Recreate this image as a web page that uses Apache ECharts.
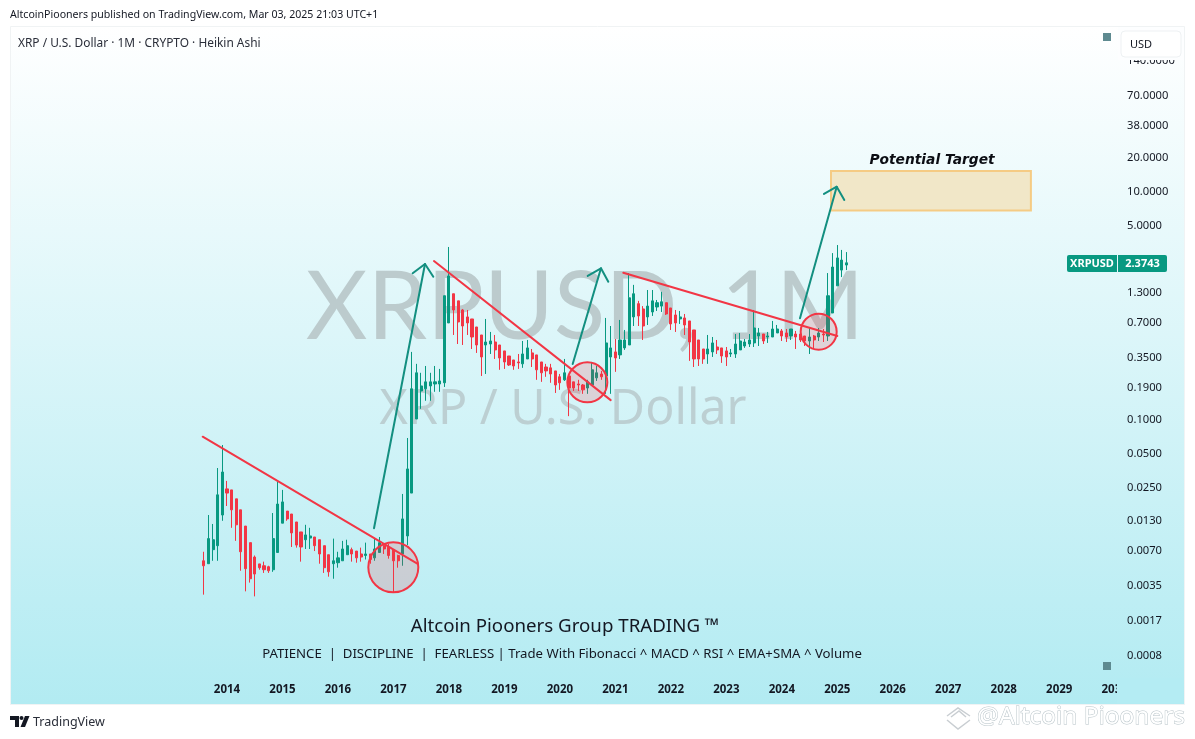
<!DOCTYPE html>
<html>
<head>
<meta charset="utf-8">
<style>html,body{margin:0;padding:0;background:#fff}#c{width:1195px;height:739px}</style>
<script src="https://cdn.jsdelivr.net/npm/echarts@6/dist/echarts.min.js"></script>
</head>
<body>
<div id="c"></div>
<script>
// ---- Monthly Heikin Ashi candles, XRP/USD, Aug 2013 .. Mar 2025 ----
const firstCandle = [2013, 8];
const opens = [
.00575,.00542,.0072,.0078,.0145,
.0246,.0241,.0201,.0161,.0116,.0083,.0062,.0054,.0052,.0051,.0048,.0068,
.0123,.0157,.0148,.0126,.0103,.0088,.0091,.0093,.0088,.0078,.0065,.00542,
.00553,.00575,.0065,.0072,.0070,.0066,.0064,.0066,.0061,.0068,.0078,.0076,
.0072,.0064,.0066,.0095,.0226,.101,.178,.186,.197,.205,.205,.210,
.704,1.27,1.10,.915,.795,.763,.649,.552,.451,.460,.479,.451,
.400,.361,.333,.320,.308,.340,.384,.369,.320,.289,.284,.267,
.237,.223,.241,.214,.205,.201,.189,.201,.232,.251,.241,.354,
.392,.369,.425,.451,.795,1.04,.934,.795,.879,.972,.99,1.06,
.953,.827,.763,.779,.733,.611,.499,.416,.376,.392,.433,.425,
.400,.376,.376,.408,.442,.460,.470,.541,.563,.530,.530,.575,
.599,.575,.541,.563,.563,.541,.489,.541,.530,.563,.541,.861,
1.49,2.05,2.27];
const closes = [
.0052,.0090,.0088,.0218,.0346,
.0226,.0161,.0119,.0069,.0049,.0040,.0044,.0050,.0048,.0047,.0090,.0181,
.0189,.0134,.0101,.0079,.0076,.0097,.0095,.0078,.0066,.0050,.0046,.00575,
.0061,.0073,.0078,.0066,.0061,.0062,.0066,.0059,.0073,.0083,.0073,.0064,
.00575,.00575,.0134,.0368,.186,.257,.197,.214,.214,.214,.218,1.22,
1.82,.915,.718,.662,.704,.530,.451,.354,.479,.489,.408,.347,
.320,.301,.295,.314,.376,.425,.340,.273,.257,.267,.251,.201,
.210,.257,.189,.189,.201,.182,.214,.273,.257,.237,.470,.425,
.347,.499,.499,1.17,1.27,.811,.662,.99,1.10,1.06,1.08,.844,
.690,.704,.795,.676,.479,.340,.340,.340,.416,.470,.408,.361,
.354,.384,.460,.489,.479,.499,.636,.575,.489,.541,.623,.623,
.541,.530,.623,.530,.499,.489,.530,.499,.575,.552,1.22,2.18,
2.62,2.51,2.3743];
const lows = [
.0029,.00542,.00575,.00575,.0129,
.0174,.0112,.0086,.0047,.0031,.0037,.0028,.0048,.0045,.0045,.0046,.0068,
.0123,.0129,.0076,.0075,.00565,.0073,.0073,.0070,.00542,.0045,.00417,.0040,
.0050,.00575,.0065,.00565,.00553,.00565,.0059,.00542,.00575,.0068,.0066,.0060,
.0030,.0050,.0052,.0079,.0226,.101,.124,.146,.146,.175,.175,.193,
.704,.552,.460,.451,.552,.416,.384,.241,.251,.376,.340,.273,
.278,.295,.273,.278,.284,.340,.289,.223,.214,.237,.210,.171,
.182,.218,.107,.178,.178,.168,.168,.201,.218,.223,.168,.168,
.262,.340,.408,.451,.662,.662,.499,.676,.811,.897,.879,.827,
.611,.587,.690,.552,.327,.289,.295,.308,.308,.354,.376,.314,
.295,.354,.347,.408,.425,.433,.433,.442,.460,.470,.530,.575,
.489,.479,.499,.416,.479,.442,.376,.416,.489,.479,.489,.861,
1.49,1.78,2.05];
const highs = [
.0069,.0145,.0121,.0375,.0597,
.0289,.0241,.0201,.0161,.0116,.0083,.0064,.0054,.00565,.0052,.0151,.0283,
.0241,.0157,.0148,.0126,.0103,.0119,.0112,.0093,.0088,.0078,.0065,.0090,
.0069,.0086,.0088,.0075,.0070,.0075,.0083,.0066,.0091,.0093,.0079,.0081,
.0072,.0065,.0222,.0688,.392,.308,.257,.295,.257,.295,.278,1.22,
3.27,1.27,1.10,.934,.915,.763,.649,.552,.763,.587,.552,.451,
.400,.361,.333,.376,.489,.499,.416,.369,.320,.308,.308,.267,
.251,.340,.241,.214,.223,.205,.223,.320,.295,.267,.779,.662,
.509,.748,.611,1.93,1.52,1.10,.99,1.37,1.37,1.12,1.32,1.06,
.953,.915,.897,.844,.733,.611,.499,.416,.552,.530,.499,.425,
.433,.416,.563,.575,.509,.563,.915,.636,.563,.587,.733,.676,
.623,.623,.623,.599,.563,.541,.636,.552,.636,.623,1.93,2.89,
3.40,3.08,2.95];

// ---- Axes ----
const priceTicks = [140,70,38,20,10,5,1.3,0.7,0.35,0.19,0.1,0.05,0.025,0.013,0.007,0.0035,0.0017,0.00084];
const priceMin = 0.000318, priceMax = 279;
const axisStart = [2010, 3], axisMonths = 239, firstYearLabel = 2014;
const lastPrice = '2.3743', symbolName = 'XRPUSD';

// ---- Drawn annotations, in [year, price] ----
const yearMin = 2010.125, yearMax = 2030.042;
const trendLines = [
  [[2013.562,.0706],[2017.438,.00539]],
  [[2017.731,2.46],[2020.916,.148]],
  [[2021.143,1.945],[2025.001,.541]]
];
const arrows = [
  [[2016.650,.01109],[2017.569,2.32]], [[2017.347,1.92],[2017.569,2.32],[2017.719,1.79]],
  [[2020.231,.307],[2020.741,2.125]],  [[2020.502,1.82],[2020.741,2.125],[2020.873,1.62]],
  [[2024.328,.774],[2024.990,11.06]],  [[2024.761,9.55],[2024.990,11.06],[2025.127,8.46]]
];
const circles = [[2016.998,.00504,25],[2020.495,.212,20],[2024.665,.59,18]];
const targetBox = [[2024.887,15.2],[2028.49,6.84]];

const months = [];
for (let i = 0; i < axisMonths; i++) {
  const t = axisStart[0]*12 + axisStart[1]-1 + i;
  months.push(Math.floor(t/12) + '-' + String(t%12+1).padStart(2,'0'));
}
const firstIdx = months.indexOf(firstCandle[0] + '-' + String(firstCandle[1]).padStart(2,'0'));
const candles = opens.map((o,i)=>[months[firstIdx+i], o, closes[i], lows[i], highs[i]]);

const UP='#089981', DOWN='#f23645', TXT='#131722';
const F='"Noto Sans", sans-serif';
const chart = echarts.init(document.getElementById('c'), null, {renderer:'canvas'});

const overlayLines = trendLines.map(p=>({p,c:DOWN,w:2})).concat(arrows.map(p=>({p,c:'#138f80',w:2})));

chart.setOption({
  animation:false,
  backgroundColor:'#fff',
  grid:{left:12,right:78,top:27,height:677,containLabel:false},
  xAxis:[
    {type:'category',data:months,boundaryGap:true,axisLine:{show:false},axisTick:{show:false},splitLine:{show:false},
     axisLabel:{inside:true,margin:8,color:TXT,fontFamily:F,fontWeight:'bold',fontSize:11.5,hideOverlap:false,
       interval:(i,v)=>v.endsWith('-01') && +v.slice(0,4)>=firstYearLabel,formatter:v=>v.slice(0,4)}},
    {type:'value',min:yearMin,max:yearMax,show:false}
  ],
  yAxis:[
    {type:'log',logBase:10,min:priceMin,max:priceMax,show:false,position:'right'},
    {type:'value',position:'right',min:Math.log10(priceMin),max:Math.log10(priceMax),
     axisLine:{show:false},axisTick:{show:false},splitLine:{show:false},
     axisLabel:{show:true,margin:10,color:TXT,fontFamily:F,fontSize:11.2,showMinLabel:true,showMaxLabel:true,
       customValues:priceTicks.map(Math.log10),formatter:v=>Math.pow(10,v).toFixed(4)}}
  ],
  series:[
    {type:'candlestick',name:'XRPUSD',xAxisIndex:0,yAxisIndex:0,data:candles,encode:{x:0,y:[1,2,3,4]},barWidth:2.6,z:3,clip:false,
     itemStyle:{color:UP,color0:DOWN,borderColor:UP,borderColor0:DOWN,borderWidth:1}},
    {type:'custom',xAxisIndex:1,yAxisIndex:0,z:4,clip:false,silent:true,
     data:[[2025,10]],encode:{x:0,y:1},
     renderItem:(params,api)=>{
       const a=api.coord(targetBox[0]), b=api.coord(targetBox[1]);
       return {type:'rect',shape:{x:a[0],y:a[1],width:b[0]-a[0],height:b[1]-a[1]},
         style:{fill:'#f1e7c8',stroke:'#f5cb84',lineWidth:2}};
     }},
    {type:'custom',xAxisIndex:1,yAxisIndex:0,z:5,clip:false,silent:true,
     data:circles.map(c=>[c[0],c[1],c[2]]),encode:{x:0,y:1},
     renderItem:(params,api)=>{
       const p=api.coord([api.value(0),api.value(1)]);
       return {type:'circle',shape:{cx:p[0],cy:p[1],r:api.value(2)},
         style:{fill:'rgba(242,54,69,0.18)',stroke:'#f23645',lineWidth:2}};
     }},
    {type:'custom',xAxisIndex:1,yAxisIndex:0,z:6,clip:false,silent:true,
     data:overlayLines.map(o=>[o.p[0][0],o.p[0][1]]),encode:{x:0,y:1},
     renderItem:(params,api)=>{
       const o=overlayLines[params.dataIndex];
       return {type:'polyline',shape:{points:o.p.map(q=>api.coord(q))},
         style:{fill:null,stroke:o.c,lineWidth:o.w,lineCap:'round',lineJoin:'round'}};
     }}
  ],
  graphic:[
    // panel
    {type:'rect',z:-10,shape:{x:10.5,y:26.5,width:1174,height:678},
     style:{stroke:'#f0f3f4',lineWidth:1,fill:{type:'linear',x:0,y:0,x2:0,y2:1,colorStops:[{offset:0,color:'#ffffff'},{offset:1,color:'#b2ebf2'}]}}},
    // watermarks
    {type:'text',z:-5,style:{text:'XRPUSD, 1M',x:585,y:308,align:'center',verticalAlign:'middle',fill:'#bccbcd',font:'95px Lato, sans-serif'}},
    {type:'text',z:-5,style:{text:'XRP / U.S. Dollar',x:563,y:410,align:'center',verticalAlign:'middle',fill:'#bccfd2',font:'48.4px '+F}},
    // header
    {type:'text',style:{text:'AltcoinPiooners published on TradingView.com, Mar 03, 2025 21:03 UTC+1',x:10,y:15,verticalAlign:'middle',fill:TXT,font:'10.6px '+F}},
    {type:'text',style:{text:'XRP / U.S. Dollar · 1M · CRYPTO · Heikin Ashi',x:18,y:43.5,verticalAlign:'middle',fill:'#2a2e39',font:'11.9px '+F}},
    // target label
    {type:'text',z:20,style:{text:'Potential Target',x:932,y:160,align:'center',verticalAlign:'middle',fill:'#0c0e14',font:'italic bold 13.8px "DejaVu Sans", sans-serif'}},
    // captions
    {type:'text',z:20,style:{text:'Altcoin Piooners Group TRADING ™',x:565,y:627,align:'center',verticalAlign:'middle',fill:TXT,font:'18.7px '+F}},
    {type:'text',z:20,style:{text:'PATIENCE  |  DISCIPLINE  |  FEARLESS | Trade With Fibonacci ^ MACD ^ RSI ^ EMA+SMA ^ Volume',x:562,y:654,align:'center',verticalAlign:'middle',fill:TXT,font:'13.2px '+F}},
    // covers clipped part of the time axis
    {type:'rect',z:30,shape:{x:1117,y:678,width:66,height:25.5},style:{fill:'#b4ecf3'}},
    // USD box
    {type:'rect',z:29,shape:{x:1118,y:27,width:66,height:33},style:{fill:'#fdfeff'}},
    {type:'rect',z:30,shape:{x:1121,y:31,width:60,height:26,r:4},style:{fill:'#ffffff',stroke:'#eef1f3',lineWidth:1}},
    {type:'text',z:31,style:{text:'USD',x:1130,y:44.5,verticalAlign:'middle',fill:TXT,font:'11px '+F}},
    // small squares
    {type:'rect',z:30,shape:{x:1103,y:33,width:8,height:8},style:{fill:'#5e8a90'}},
    {type:'rect',z:30,shape:{x:1103,y:662,width:8,height:8},style:{fill:'#5e8a90'}},
    // price tag
    {type:'rect',z:30,shape:{x:1067,y:255,width:50,height:17,r:[2,0,0,2]},style:{fill:UP}},
    {type:'rect',z:30,shape:{x:1118,y:255,width:49,height:17,r:[0,2,2,0]},style:{fill:UP}},
    {type:'text',z:31,style:{text:symbolName,x:1092,y:264,align:'center',verticalAlign:'middle',fill:'#fff',font:'bold 11px '+F}},
    {type:'text',z:31,style:{text:lastPrice,x:1142.5,y:264,align:'center',verticalAlign:'middle',fill:'#fff',font:'bold 11px '+F}},
    // footer logo
    {type:'polygon',z:20,shape:{points:[[10,716],[19,716],[19,727],[15,727],[15,720],[10,720]]},style:{fill:'#131722'}},
    {type:'circle',z:20,shape:{cx:21.5,cy:718,r:2},style:{fill:'#131722'}},
    {type:'polygon',z:20,shape:{points:[[25,716],[29.5,716],[25,727],[20.5,727]]},style:{fill:'#131722'}},
    {type:'text',z:20,style:{text:'TradingView',x:33,y:722,verticalAlign:'middle',fill:'#2a2e39',font:'12.5px '+F}},
    // footer watermark
    {type:'polyline',z:20,shape:{points:[[947,716],[958,708],[970,716]]},style:{fill:null,stroke:'#c9ced2',lineWidth:1.5}},
    {type:'polyline',z:20,shape:{points:[[951,717],[959,711],[966,717]]},style:{fill:null,stroke:'#c9ced2',lineWidth:1.5}},
    {type:'polyline',z:20,shape:{points:[[947,720],[958,729],[970,720]]},style:{fill:null,stroke:'#c9ced2',lineWidth:1.5}},
    {type:'text',z:20,style:{text:'@Altcoin Piooners',x:977,y:717,verticalAlign:'middle',fill:'#fff',stroke:'#b7c3c8',lineWidth:1,font:'24.4px '+F}}
  ]
});
</script>
</body>
</html>
